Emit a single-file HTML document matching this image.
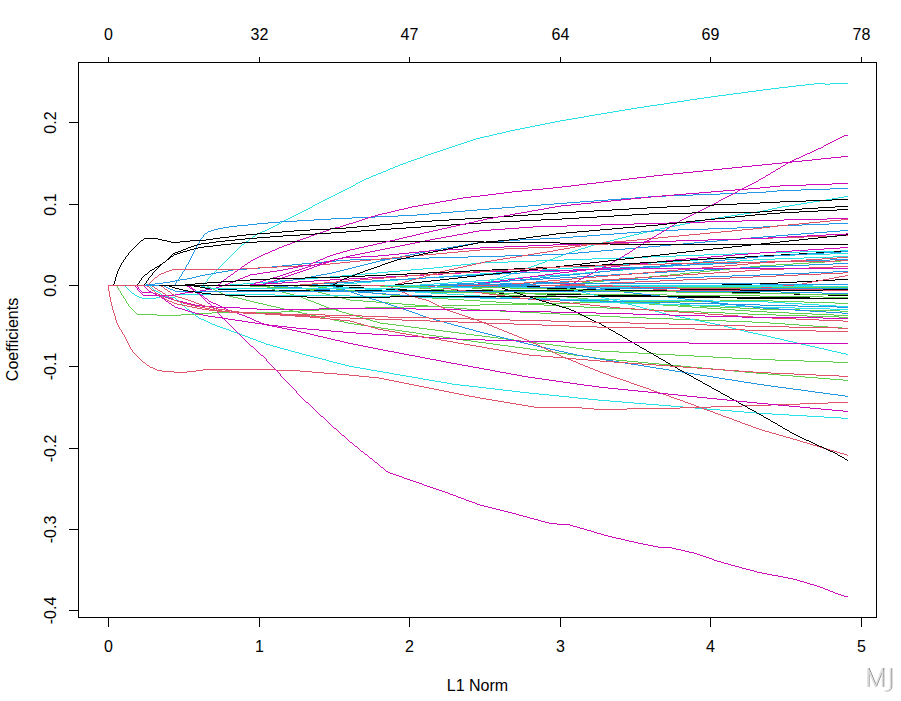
<!DOCTYPE html>
<html><head><meta charset="utf-8"><title>Coefficient paths</title>
<style>
html,body{margin:0;padding:0;background:#fff;}
body{width:901px;height:701px;overflow:hidden;position:relative;font-family:"Liberation Sans",sans-serif;}
</style></head><body>
<svg width="901" height="701" viewBox="0 0 901 701" style="position:absolute;left:0;top:0">
<rect x="0" y="0" width="901" height="701" fill="#fff"/>
<g fill="none" stroke-width="1" shape-rendering="crispEdges" stroke-linejoin="round">
<path d="M560,285.5h30M590,286.5h101M691,285.5h31M722,284.5h30M752,283.5h26M778,282.5h19M797,281.5h19M816,280.5h19M835,279.5h13" stroke="#000000"/>
<path d="M400,285.5h44M444,286.5h44M488,287.5h44M532,288.5h44M576,289.5h44M620,290.5h47M667,291.5h46M713,292.5h47M760,293.5h34M794,294.5h34M828,295.5h20" stroke="#000000"/>
<path d="M189,285.5h5M194,286.5h6M200,287.5h5M205,288.5h13M218,289.5h19M237,290.5h571M808,289.5h40" stroke="#000000"/>
<path d="M420,285.5h60M480,286.5h60M540,287.5h60M600,288.5h80M680,289.5h80M760,290.5h88" stroke="#000000"/>
<path d="M300,285.5h21M321,286.5h22M343,287.5h21M364,288.5h22M386,289.5h21M407,290.5h22M429,291.5h21M450,292.5h49M499,293.5h48M547,294.5h49M596,295.5h57M653,296.5h67M720,297.5h90M810,298.5h38" stroke="#000000"/>
<path d="M117.5,285v3M118.5,288v2M119,290.5h1M120.5,291v2M121.5,293v2M122,295.5h1M123.5,296v2M124,298.5h1M125.5,299v2M126.5,301v2M127,303.5h1M128.5,304v2M129,306.5h1M130,307.5h1M131,308.5h1M132,309.5h1M133,310.5h1M134,311.5h1M135,312.5h1M136,313.5h1M137,314.5h20M157,315.5h24M181,314.5h18M199,313.5h13M212,312.5h69M281,311.5h19M300,310.5h19M319,309.5h19M338,308.5h27M365,307.5h39M404,306.5h38M442,305.5h38M480,304.5h47M527,303.5h46M573,302.5h47M620,301.5h100M720,300.5h53M773,301.5h31M804,302.5h31M835,303.5h13" stroke="#61D04F"/>
<path d="M205,285.5h2M207,286.5h2M209,287.5h2M211,288.5h2M213,289.5h2M215,290.5h2M217,291.5h2M219,292.5h2M221,293.5h2M223,294.5h2M225,295.5h4M229,296.5h4M233,297.5h5M238,298.5h4M242,299.5h4M246,300.5h4M250,301.5h4M254,302.5h4M258,303.5h5M263,304.5h4M267,305.5h4M271,306.5h5M276,307.5h4M280,308.5h4M284,309.5h5M289,310.5h4M293,311.5h5M298,312.5h4M302,313.5h5M307,314.5h4M311,315.5h5M316,316.5h5M321,317.5h4M325,318.5h5M330,319.5h4M334,320.5h5M339,321.5h5M344,322.5h4M348,323.5h6M354,324.5h7M361,325.5h7M368,326.5h7M375,327.5h6M381,328.5h7M388,329.5h7M395,330.5h7M402,331.5h7M409,332.5h7M416,333.5h6M422,334.5h7M429,335.5h7M436,336.5h7M443,337.5h7M450,338.5h7M457,339.5h6M463,340.5h8M471,341.5h7M478,342.5h8M486,343.5h7M493,344.5h7M500,345.5h8M508,346.5h7M515,347.5h8M523,348.5h7M530,349.5h7M537,350.5h8M545,351.5h7M552,352.5h7M559,353.5h8M567,354.5h7M574,355.5h8M582,356.5h7M589,357.5h7M596,358.5h9M605,359.5h11M616,360.5h11M627,361.5h11M638,362.5h10M648,363.5h11M659,364.5h11M670,365.5h11M681,366.5h10M691,367.5h11M702,368.5h11M713,369.5h10M723,370.5h11M734,371.5h11M745,372.5h11M756,373.5h12M768,374.5h12M780,375.5h13M793,376.5h12M805,377.5h13M818,378.5h12M830,379.5h13M843,380.5h5" stroke="#61D04F"/>
<path d="M262,285.5h3M265,286.5h2M267,287.5h3M270,288.5h2M272,289.5h3M275,290.5h4M279,291.5h3M282,292.5h4M286,293.5h4M290,294.5h4M294,295.5h3M297,296.5h4M301,297.5h2M303,298.5h3M306,299.5h2M308,300.5h3M311,301.5h3M314,302.5h2M316,303.5h3M319,304.5h2M321,305.5h3M324,306.5h2M326,307.5h3M329,308.5h3M332,309.5h4M336,310.5h3M339,311.5h3M342,312.5h4M346,313.5h3M349,314.5h4M353,315.5h3M356,316.5h4M360,317.5h3M363,318.5h3M366,319.5h4M370,320.5h3M373,321.5h4M377,322.5h3M380,323.5h8M388,324.5h8M396,325.5h8M404,326.5h7M411,327.5h8M419,328.5h8M427,329.5h8M435,330.5h8M443,331.5h8M451,332.5h8M459,333.5h7M466,334.5h8M474,335.5h8M482,336.5h8M490,337.5h8M498,338.5h8M506,339.5h8M514,340.5h7M521,341.5h8M529,342.5h8M537,343.5h8M545,344.5h8M553,345.5h8M561,346.5h8M569,347.5h7M576,348.5h8M584,349.5h8M592,350.5h8M600,351.5h19M619,352.5h19M638,353.5h18M656,354.5h19M675,355.5h19M694,356.5h19M713,357.5h19M732,358.5h19M751,359.5h24M775,360.5h29M804,361.5h29M833,362.5h15" stroke="#61D04F"/>
<path d="M290,285.5h4M294,286.5h4M298,287.5h4M302,288.5h4M306,289.5h4M310,290.5h4M314,291.5h4M318,292.5h4M322,293.5h4M326,294.5h4M330,295.5h4M334,296.5h4M338,297.5h4M342,298.5h4M346,299.5h4M350,300.5h13M363,301.5h13M376,302.5h13M389,303.5h13M402,304.5h13M415,305.5h13M428,306.5h13M441,307.5h13M454,308.5h13M467,309.5h13M480,310.5h20M500,311.5h20M520,312.5h20M540,313.5h20M560,314.5h20M580,315.5h20M600,316.5h20M620,317.5h26M646,318.5h27M673,319.5h26M699,320.5h27M726,321.5h26M752,322.5h18M770,323.5h15M785,324.5h14M799,325.5h14M813,326.5h15M828,327.5h14M842,328.5h6" stroke="#61D04F"/>
<path d="M380,285.5h13M393,286.5h13M406,287.5h13M419,288.5h12M431,289.5h13M444,290.5h13M457,291.5h13M470,292.5h13M483,293.5h13M496,294.5h13M509,295.5h12M521,296.5h13M534,297.5h13M547,298.5h13M560,299.5h20M580,300.5h20M600,301.5h20M620,302.5h20M640,303.5h20M660,304.5h20M680,305.5h20M700,306.5h20M720,307.5h20M740,308.5h20M760,309.5h40M800,310.5h40M840,311.5h8" stroke="#61D04F"/>
<path d="M440,285.5h11M451,286.5h10M461,287.5h11M472,288.5h10M482,289.5h11M493,290.5h11M504,291.5h10M514,292.5h11M525,293.5h10M535,294.5h11M546,295.5h10M556,296.5h11M567,297.5h11M578,298.5h10M588,299.5h11M599,300.5h10M609,301.5h11M620,302.5h14M634,303.5h15M649,304.5h14M663,305.5h15M678,306.5h14M692,307.5h15M707,308.5h14M721,309.5h14M735,310.5h15M750,311.5h17M767,312.5h22M789,313.5h23M812,314.5h22M834,315.5h14" stroke="#61D04F"/>
<path d="M300,285.5h9M309,286.5h9M318,287.5h9M327,288.5h9M336,289.5h9M345,290.5h10M355,291.5h9M364,292.5h9M373,293.5h9M382,294.5h9M391,295.5h9M400,296.5h16M416,297.5h16M432,298.5h16M448,299.5h16M464,300.5h16M480,301.5h16M496,302.5h16M512,303.5h16M528,304.5h16M544,305.5h16M560,306.5h24M584,307.5h23M607,308.5h24M631,309.5h23M654,310.5h24M678,311.5h23M701,312.5h24M725,313.5h23M748,314.5h28M776,315.5h31M807,316.5h32M839,317.5h9" stroke="#61D04F"/>
<path d="M230,285.5h20M250,286.5h20M270,287.5h20M290,288.5h20M310,289.5h20M330,290.5h20M350,291.5h77M427,292.5h77M504,293.5h77M581,294.5h86M667,295.5h93M760,296.5h63M823,297.5h25" stroke="#61D04F"/>
<path d="M330,285.5h50M380,286.5h50M430,287.5h418" stroke="#61D04F"/>
<path d="M560.5,284v2M561,284.5h10M571,283.5h11M582,282.5h11M593,281.5h11M604,280.5h12M616,279.5h11M627,278.5h11M638,277.5h11M649,276.5h11M660,275.5h10M670,274.5h10M680,273.5h10M690,272.5h10M700,271.5h10M710,270.5h10M720,269.5h10M730,268.5h10M740,267.5h10M750,266.5h10M760,265.5h16M776,264.5h17M793,263.5h16M809,262.5h16M825,261.5h16M841,260.5h7" stroke="#61D04F"/>
<path d="M203.5,284v2M204,283.5h1M205,282.5h1M206,281.5h1M207.5,279v2M208,278.5h1M209,277.5h1M210,276.5h1M211,275.5h1M212,274.5h1M213,273.5h1M214,272.5h1M215,271.5h1M216,270.5h1M217,269.5h1M218,268.5h1M219,267.5h1M220,266.5h1M221,265.5h1M222,264.5h1M223,263.5h1M224,262.5h1M225,261.5h1M226,260.5h1M227,259.5h1M228,258.5h1M229,257.5h1M230,256.5h1M231,255.5h1M232,254.5h1M233,253.5h1M234,252.5h1M235,251.5h1M236,250.5h1M237,249.5h1M238,248.5h1M239,247.5h1M240,246.5h1M241,245.5h1M242,244.5h2M244,243.5h1M245,242.5h1M246,241.5h2M248,240.5h1M249,239.5h1M250,238.5h2M252,237.5h1M253,236.5h2M255,235.5h1M256,234.5h2M258,233.5h2M260,232.5h2M262,231.5h3M265,230.5h2M267,229.5h2M269,228.5h2M271,227.5h2M273,226.5h2M275,225.5h2M277,224.5h2M279,223.5h2M281,222.5h1M282,221.5h2M284,220.5h2M286,219.5h2M288,218.5h2M290,217.5h2M292,216.5h2M294,215.5h2M296,214.5h2M298,213.5h2M300,212.5h2M302,211.5h2M304,210.5h2M306,209.5h2M308,208.5h2M310,207.5h2M312,206.5h1M313,205.5h2M315,204.5h2M317,203.5h2M319,202.5h2M321,201.5h2M323,200.5h2M325,199.5h2M327,198.5h2M329,197.5h2M331,196.5h2M333,195.5h2M335,194.5h2M337,193.5h2M339,192.5h2M341,191.5h2M343,190.5h2M345,189.5h2M347,188.5h2M349,187.5h2M351,186.5h2M353,185.5h2M355,184.5h1M356,183.5h2M358,182.5h2M360,181.5h2M362,180.5h2M364,179.5h2M366,178.5h3M369,177.5h2M371,176.5h2M373,175.5h3M376,174.5h2M378,173.5h3M381,172.5h2M383,171.5h3M386,170.5h2M388,169.5h2M390,168.5h3M393,167.5h2M395,166.5h3M398,165.5h2M400,164.5h3M403,163.5h3M406,162.5h2M408,161.5h3M411,160.5h3M414,159.5h3M417,158.5h3M420,157.5h3M423,156.5h2M425,155.5h3M428,154.5h3M431,153.5h3M434,152.5h3M437,151.5h3M440,150.5h3M443,149.5h3M446,148.5h3M449,147.5h3M452,146.5h3M455,145.5h3M458,144.5h3M461,143.5h3M464,142.5h3M467,141.5h3M470,140.5h3M473,139.5h3M476,138.5h4M480,137.5h4M484,136.5h5M489,135.5h4M493,134.5h4M497,133.5h5M502,132.5h4M506,131.5h4M510,130.5h5M515,129.5h5M520,128.5h5M525,127.5h5M530,126.5h5M535,125.5h5M540,124.5h5M545,123.5h5M550,122.5h5M555,121.5h5M560,120.5h6M566,119.5h6M572,118.5h6M578,117.5h6M584,116.5h5M589,115.5h6M595,114.5h6M601,113.5h6M607,112.5h6M613,111.5h6M619,110.5h6M625,109.5h6M631,108.5h6M637,107.5h7M644,106.5h6M650,105.5h7M657,104.5h7M664,103.5h6M670,102.5h7M677,101.5h7M684,100.5h6M690,99.5h7M697,98.5h7M704,97.5h7M711,96.5h7M718,95.5h8M726,94.5h7M733,93.5h8M741,92.5h7M748,91.5h8M756,90.5h7M763,89.5h8M771,88.5h8M779,87.5h9M788,86.5h8M796,85.5h9M805,84.5h9M814,83.5h11M825,84.5h5M830,83.5h18" stroke="#28E2E5"/>
<path d="M483.5,284v2M484,284.5h1M485,283.5h1M486,282.5h2M488,281.5h3M491,280.5h3M494,279.5h3M497,278.5h3M500,277.5h3M503,276.5h3M506,275.5h3M509,274.5h2M511,273.5h3M514,272.5h3M517,271.5h3M520,270.5h3M523,269.5h2M525,268.5h3M528,267.5h3M531,266.5h3M534,265.5h3M537,264.5h2M539,263.5h3M542,262.5h3M545,261.5h2M547,260.5h3M550,259.5h3M553,258.5h2M555,257.5h3M558,256.5h3M561,255.5h2M563,254.5h3M566,253.5h3M569,252.5h3M572,251.5h3M575,250.5h3M578,249.5h3M581,248.5h4M585,247.5h3M588,246.5h3M591,245.5h3M594,244.5h4M598,243.5h4M602,242.5h4M606,241.5h4M610,240.5h4M614,239.5h4M618,238.5h4M622,237.5h4M626,236.5h4M630,235.5h4M634,234.5h5M639,233.5h4M643,232.5h4M647,231.5h4M651,230.5h4M655,229.5h5M660,228.5h5M665,227.5h5M670,226.5h5M675,225.5h5M680,224.5h5M685,223.5h5M690,222.5h5M695,221.5h5M700,220.5h5M705,219.5h6M711,218.5h7M718,217.5h6M724,216.5h7M731,215.5h6M737,214.5h7M744,213.5h7M751,212.5h6M757,211.5h6M763,210.5h5M768,209.5h4M772,208.5h5M777,207.5h5M782,206.5h7M789,205.5h6M795,204.5h6M801,203.5h6M807,202.5h6M813,201.5h7M820,200.5h6M826,199.5h6M832,198.5h6M838,197.5h6M844,196.5h4" stroke="#28E2E5"/>
<path d="M149,285.5h1M150,286.5h1M151,287.5h1M152,288.5h1M153,289.5h1M154,290.5h2M156,291.5h2M158,292.5h2M160,293.5h1M161,294.5h1M162,295.5h2M164,296.5h1M165,297.5h10M175,298.5h1M176,299.5h1M177,300.5h2M179,301.5h1M180,302.5h1M181,303.5h1M182,304.5h1M183,305.5h1M184,306.5h1M185,307.5h1M186,308.5h1M187,309.5h2M189,310.5h1M190,311.5h1M191,312.5h1M192,313.5h2M194,314.5h1M195,315.5h1M196,316.5h2M198,317.5h1M199,318.5h2M201,319.5h3M204,320.5h2M206,321.5h2M208,322.5h2M210,323.5h2M212,324.5h3M215,325.5h2M217,326.5h3M220,327.5h3M223,328.5h3M226,329.5h3M229,330.5h2M231,331.5h3M234,332.5h3M237,333.5h3M240,334.5h2M242,335.5h3M245,336.5h3M248,337.5h2M250,338.5h3M253,339.5h3M256,340.5h2M258,341.5h3M261,342.5h3M264,343.5h2M266,344.5h4M270,345.5h3M273,346.5h4M277,347.5h3M280,348.5h4M284,349.5h4M288,350.5h3M291,351.5h4M295,352.5h4M299,353.5h3M302,354.5h4M306,355.5h4M310,356.5h4M314,357.5h4M318,358.5h4M322,359.5h4M326,360.5h3M329,361.5h4M333,362.5h4M337,363.5h4M341,364.5h4M345,365.5h4M349,366.5h5M354,367.5h6M360,368.5h6M366,369.5h5M371,370.5h6M377,371.5h6M383,372.5h6M389,373.5h5M394,374.5h6M400,375.5h6M406,376.5h6M412,377.5h6M418,378.5h5M423,379.5h6M429,380.5h6M435,381.5h6M441,382.5h6M447,383.5h5M452,384.5h8M460,385.5h9M469,386.5h9M478,387.5h8M486,388.5h9M495,389.5h8M503,390.5h9M512,391.5h8M520,392.5h9M529,393.5h10M539,394.5h10M549,395.5h10M559,396.5h10M569,397.5h9M578,398.5h10M588,399.5h10M598,400.5h12M610,401.5h12M622,402.5h12M634,403.5h12M646,404.5h13M659,405.5h12M671,406.5h12M683,407.5h12M695,408.5h12M707,409.5h13M720,410.5h12M732,411.5h12M744,412.5h12M756,413.5h16M772,414.5h17M789,415.5h18M807,416.5h17M824,417.5h17M841,418.5h7" stroke="#28E2E5"/>
<path d="M124,285.5h1M125,286.5h1M126,287.5h1M127,288.5h1M128,289.5h1M129,290.5h1M130,291.5h1M131,292.5h1M132,293.5h2M134,294.5h1M135,295.5h2M137,296.5h2M139,297.5h3M142,298.5h14M156,297.5h4M160,296.5h8M168,295.5h8M176,294.5h99M275,295.5h75M350,296.5h65M415,297.5h65M480,298.5h70M550,299.5h70M620,300.5h93M713,301.5h55M768,302.5h17M785,303.5h17M802,304.5h17M819,305.5h17M836,306.5h12" stroke="#28E2E5"/>
<path d="M555,285.5h4M559,286.5h4M563,287.5h4M567,288.5h3M570,289.5h4M574,290.5h4M578,291.5h4M582,292.5h4M586,293.5h4M590,294.5h4M594,295.5h4M598,296.5h3M601,297.5h4M605,298.5h4M609,299.5h4M613,300.5h4M617,301.5h4M621,302.5h4M625,303.5h3M628,304.5h4M632,305.5h4M636,306.5h4M640,307.5h3M643,308.5h4M647,309.5h4M651,310.5h4M655,311.5h4M659,312.5h3M662,313.5h4M666,314.5h4M670,315.5h5M675,316.5h5M680,317.5h5M685,318.5h5M690,319.5h5M695,320.5h5M700,321.5h5M705,322.5h5M710,323.5h5M715,324.5h5M720,325.5h4M724,326.5h4M728,327.5h4M732,328.5h4M736,329.5h4M740,330.5h4M744,331.5h4M748,332.5h5M753,333.5h5M758,334.5h4M762,335.5h5M767,336.5h4M771,337.5h4M775,338.5h5M780,339.5h4M784,340.5h4M788,341.5h5M793,342.5h4M797,343.5h4M801,344.5h5M806,345.5h4M810,346.5h5M815,347.5h4M819,348.5h5M824,349.5h4M828,350.5h4M832,351.5h5M837,352.5h4M841,353.5h5M846,354.5h2" stroke="#28E2E5"/>
<path d="M230.5,284v2M231,284.5h12M243,283.5h12M255,282.5h13M268,281.5h12M280,280.5h13M293,279.5h12M305,278.5h13M318,277.5h12M330,276.5h12M342,275.5h11M353,274.5h12M365,273.5h12M377,272.5h11M388,271.5h12M400,270.5h11M411,269.5h12M423,268.5h11M434,267.5h9M443,266.5h9M452,265.5h9M461,264.5h10M471,263.5h9M480,262.5h28M508,261.5h28M536,260.5h28M564,259.5h28M592,258.5h28M620,257.5h28M648,256.5h28M676,255.5h28M704,254.5h28M732,253.5h28M760,252.5h40M800,251.5h40M840,250.5h8" stroke="#28E2E5"/>
<path d="M330.5,284v2M331,284.5h13M344,283.5h13M357,282.5h14M371,281.5h14M385,280.5h13M398,279.5h14M412,278.5h13M425,277.5h14M439,276.5h14M453,275.5h13M466,274.5h14M480,273.5h16M496,272.5h15M511,271.5h16M527,270.5h15M542,269.5h16M558,268.5h15M573,267.5h16M589,266.5h15M604,265.5h16M620,264.5h16M636,263.5h15M651,262.5h16M667,261.5h15M682,260.5h16M698,259.5h15M713,258.5h16M729,257.5h15M744,256.5h16M760,255.5h35M795,254.5h35M830,253.5h18" stroke="#28E2E5"/>
<path d="M420.5,284v2M421,284.5h13M434,283.5h14M448,282.5h14M462,281.5h14M476,280.5h14M490,279.5h14M504,278.5h14M518,277.5h14M532,276.5h14M546,275.5h14M560,274.5h13M573,273.5h12M585,272.5h13M598,271.5h12M610,270.5h13M623,269.5h12M635,268.5h13M648,267.5h12M660,266.5h13M673,265.5h14M687,264.5h13M700,263.5h13M713,262.5h14M727,261.5h13M740,260.5h13M753,259.5h22M775,258.5h29M804,257.5h29M833,256.5h15" stroke="#28E2E5"/>
<path d="M300,285.5h16M316,286.5h17M333,287.5h16M349,288.5h16M365,289.5h17M382,290.5h16M398,291.5h17M415,292.5h16M431,293.5h16M447,294.5h17M464,295.5h16M480,296.5h20M500,297.5h20M520,298.5h20M540,299.5h20M560,300.5h20M580,301.5h20M600,302.5h20M620,303.5h35M655,304.5h35M690,305.5h35M725,306.5h35M760,307.5h35M795,308.5h35M830,309.5h18" stroke="#28E2E5"/>
<path d="M400,285.5h413M813,284.5h35" stroke="#28E2E5"/>
<path d="M175.5,283v3M176.5,281v2M177,280.5h1M178,279.5h1M179.5,277v2M180,276.5h1M181.5,274v2M182.5,272v2M183,271.5h1M184.5,269v2M185.5,267v2M186.5,265v2M187,264.5h1M188.5,262v2M189.5,260v2M190.5,258v2M191.5,256v2M192.5,254v2M193.5,252v2M194.5,250v2M195.5,248v2M196.5,246v2M197,245.5h1M198.5,243v2M199.5,241v2M200.5,239v2M201,238.5h1M202,237.5h1M203.5,235v2M204,234.5h1M205,233.5h2M207,232.5h1M208,231.5h3M211,230.5h3M214,229.5h4M218,228.5h5M223,227.5h6M229,226.5h8M237,225.5h11M248,224.5h9M257,223.5h11M268,222.5h12M280,221.5h17M297,220.5h17M314,219.5h17M331,218.5h21M352,217.5h23M375,216.5h23M398,215.5h19M417,214.5h12M429,213.5h12M441,212.5h12M453,211.5h12M465,210.5h12M477,209.5h12M489,208.5h13M502,207.5h13M515,206.5h13M528,205.5h13M541,204.5h13M554,203.5h13M567,202.5h13M580,201.5h14M594,200.5h14M608,199.5h13M621,198.5h14M635,197.5h13M648,196.5h18M666,195.5h27M693,194.5h27M720,193.5h27M747,192.5h19M766,191.5h11M777,190.5h24M801,189.5h29M830,188.5h18" stroke="#2297E6"/>
<path d="M145,285.5h1M146,284.5h9M155,283.5h8M163,282.5h7M170,281.5h5M175,280.5h5M180,279.5h7M187,278.5h5M192,277.5h4M196,276.5h4M200,275.5h5M205,274.5h6M211,273.5h5M216,272.5h6M222,271.5h6M228,270.5h5M233,269.5h14M247,268.5h13M260,267.5h12M272,266.5h10M282,265.5h10M292,264.5h10M302,263.5h11M313,262.5h11M324,261.5h12M336,260.5h14M350,259.5h39M389,258.5h40M429,257.5h39M468,256.5h37M505,255.5h37M542,254.5h24M566,253.5h12M578,252.5h11M589,251.5h12M601,250.5h12M613,249.5h12M625,248.5h11M636,247.5h12M648,246.5h12M660,245.5h11M671,244.5h12M683,243.5h11M694,242.5h11M705,241.5h12M717,240.5h11M728,239.5h12M740,238.5h11M751,237.5h12M763,236.5h13M776,235.5h12M788,234.5h13M801,233.5h13M814,232.5h13M827,231.5h13M840,230.5h8" stroke="#2297E6"/>
<path d="M255.5,284v2M256,284.5h7M263,283.5h7M270,282.5h8M278,281.5h7M285,280.5h8M293,279.5h7M300,278.5h5M305,277.5h6M311,276.5h5M316,275.5h5M321,274.5h6M327,273.5h5M332,272.5h4M336,271.5h4M340,270.5h4M344,269.5h4M348,268.5h4M352,267.5h4M356,266.5h4M360,265.5h4M364,264.5h4M368,263.5h4M372,262.5h4M376,261.5h4M380,260.5h5M385,259.5h5M390,258.5h5M395,257.5h5M400,256.5h5M405,255.5h5M410,254.5h5M415,253.5h5M420,252.5h5M425,251.5h5M430,250.5h5M435,249.5h6M441,248.5h6M447,247.5h6M453,246.5h6M459,245.5h6M465,244.5h6M471,243.5h6M477,242.5h11M488,241.5h16M504,240.5h16M520,239.5h20M540,238.5h20M560,237.5h13M573,236.5h14M587,235.5h13M600,234.5h14M614,233.5h13M627,232.5h14M641,231.5h13M654,230.5h24M678,229.5h30M708,228.5h29M737,227.5h26M763,226.5h14M777,225.5h25M802,224.5h27M829,223.5h19" stroke="#2297E6"/>
<path d="M330,285.5h3M333,286.5h3M336,287.5h3M339,288.5h3M342,289.5h3M345,290.5h3M348,291.5h3M351,292.5h3M354,293.5h3M357,294.5h3M360,295.5h3M363,296.5h3M366,297.5h3M369,298.5h3M372,299.5h4M376,300.5h3M379,301.5h3M382,302.5h3M385,303.5h3M388,304.5h3M391,305.5h3M394,306.5h3M397,307.5h3M400,308.5h3M403,309.5h3M406,310.5h3M409,311.5h3M412,312.5h3M415,313.5h3M418,314.5h2M420,315.5h3M423,316.5h3M426,317.5h3M429,318.5h4M433,319.5h3M436,320.5h4M440,321.5h4M444,322.5h3M447,323.5h4M451,324.5h3M454,325.5h4M458,326.5h4M462,327.5h3M465,328.5h4M469,329.5h4M473,330.5h3M476,331.5h4M480,332.5h4M484,333.5h4M488,334.5h4M492,335.5h4M496,336.5h4M500,337.5h4M504,338.5h4M508,339.5h4M512,340.5h4M516,341.5h4M520,342.5h4M524,343.5h4M528,344.5h5M533,345.5h4M537,346.5h4M541,347.5h5M546,348.5h4M550,349.5h5M555,350.5h4M559,351.5h5M564,352.5h4M568,353.5h5M573,354.5h4M577,355.5h6M583,356.5h6M589,357.5h5M594,358.5h6M600,359.5h6M606,360.5h7M613,361.5h6M619,362.5h6M625,363.5h6M631,364.5h7M638,365.5h6M644,366.5h6M650,367.5h6M656,368.5h7M663,369.5h6M669,370.5h6M675,371.5h7M682,372.5h6M688,373.5h6M694,374.5h6M700,375.5h7M707,376.5h6M713,377.5h6M719,378.5h6M725,379.5h7M732,380.5h6M738,381.5h6M744,382.5h7M751,383.5h6M757,384.5h7M764,385.5h7M771,386.5h7M778,387.5h8M786,388.5h7M793,389.5h8M801,390.5h7M808,391.5h7M815,392.5h8M823,393.5h7M830,394.5h8M838,395.5h7M845,396.5h3" stroke="#2297E6"/>
<path d="M300.5,284v2M301,284.5h17M318,283.5h18M336,282.5h18M354,281.5h18M372,280.5h18M390,279.5h18M408,278.5h18M426,277.5h18M444,276.5h18M462,275.5h18M480,274.5h20M500,273.5h20M520,272.5h20M540,271.5h20M560,270.5h20M580,269.5h20M600,268.5h20M620,267.5h23M643,266.5h24M667,265.5h23M690,264.5h23M713,263.5h24M737,262.5h23M760,261.5h35M795,260.5h35M830,259.5h18" stroke="#2297E6"/>
<path d="M440.5,284v2M441,284.5h16M457,283.5h17M474,282.5h17M491,281.5h18M509,280.5h17M526,279.5h17M543,278.5h17M560,277.5h17M577,276.5h17M594,275.5h17M611,274.5h18M629,273.5h19M648,272.5h19M667,271.5h18M685,270.5h19M704,269.5h19M723,268.5h18M741,267.5h19M760,266.5h24M784,265.5h25M809,264.5h24M833,263.5h15" stroke="#2297E6"/>
<path d="M470.5,284v2M471,284.5h29M500,283.5h30M530,282.5h30M560,281.5h30M590,280.5h30M620,279.5h28M648,278.5h28M676,277.5h28M704,276.5h28M732,275.5h28M760,274.5h24M784,273.5h25M809,272.5h24M833,271.5h15" stroke="#2297E6"/>
<path d="M560,285.5h9M569,286.5h9M578,287.5h9M587,288.5h9M596,289.5h9M605,290.5h10M615,291.5h9M624,292.5h9M633,293.5h9M642,294.5h9M651,295.5h9M660,296.5h8M668,297.5h9M677,298.5h8M685,299.5h9M694,300.5h8M702,301.5h9M711,302.5h8M719,303.5h9M728,304.5h8M736,305.5h9M745,306.5h8M753,307.5h10M763,308.5h16M779,309.5h16M795,310.5h15M810,311.5h16M826,312.5h16M842,313.5h6" stroke="#2297E6"/>
<path d="M260,285.5h14M274,286.5h14M288,287.5h14M302,288.5h14M316,289.5h14M330,290.5h14M344,291.5h14M358,292.5h14M372,293.5h14M386,294.5h14M400,295.5h32M432,296.5h32M464,297.5h32M496,298.5h32M528,299.5h32M560,300.5h40M600,301.5h40M640,302.5h40M680,303.5h40M720,304.5h40M760,305.5h38M798,306.5h39M837,307.5h11" stroke="#2297E6"/>
<path d="M350,285.5h205M555,286.5h293" stroke="#2297E6"/>
<path d="M108.5,285v6M109.5,291v6M110.5,297v5M111.5,302v4M112.5,306v4M113.5,310v3M114.5,313v3M115.5,316v4M116.5,320v3M117.5,323v2M118.5,325v2M119.5,327v2M120,329.5h1M121.5,330v2M122.5,332v2M123,334.5h1M124.5,335v2M125.5,337v2M126.5,339v2M127.5,341v2M128.5,343v2M129.5,345v2M130.5,347v2M131,349.5h1M132.5,350v2M133,352.5h1M134,353.5h1M135,354.5h1M136,355.5h1M137,356.5h1M138,357.5h1M139,358.5h1M140,359.5h1M141,360.5h1M142,361.5h1M143,362.5h2M145,363.5h1M146,364.5h1M147,365.5h2M149,366.5h1M150,367.5h3M153,368.5h2M155,369.5h2M157,370.5h5M162,371.5h12M174,372.5h13M187,371.5h9M196,370.5h7M203,369.5h73M276,370.5h24M300,371.5h12M312,372.5h12M324,373.5h13M337,374.5h12M349,375.5h10M359,376.5h10M369,377.5h10M379,378.5h5M384,379.5h5M389,380.5h5M394,381.5h5M399,382.5h5M404,383.5h5M409,384.5h5M414,385.5h5M419,386.5h5M424,387.5h5M429,388.5h5M434,389.5h5M439,390.5h5M444,391.5h5M449,392.5h5M454,393.5h5M459,394.5h5M464,395.5h5M469,396.5h6M475,397.5h5M480,398.5h6M486,399.5h6M492,400.5h6M498,401.5h6M504,402.5h6M510,403.5h6M516,404.5h6M522,405.5h6M528,406.5h6M534,407.5h48M582,408.5h12M594,409.5h33M627,408.5h53M680,407.5h31M711,406.5h31M742,405.5h29M771,404.5h29M800,403.5h28M828,402.5h20" stroke="#DF536B"/>
<path d="M148.5,284v2M149,283.5h1M150,282.5h1M151,281.5h1M152,280.5h1M153,279.5h1M154,278.5h1M155,277.5h2M157,276.5h1M158,275.5h1M159,274.5h2M161,273.5h3M164,272.5h2M166,271.5h3M169,270.5h3M172,269.5h68M240,268.5h18M258,267.5h19M277,266.5h21M298,265.5h16M314,264.5h16M330,263.5h10M340,262.5h10M350,261.5h10M360,260.5h11M371,259.5h10M381,258.5h11M392,257.5h10M402,256.5h11M413,255.5h11M424,254.5h12M436,253.5h11M447,252.5h11M458,251.5h11M469,250.5h11M480,249.5h24M504,248.5h24M528,247.5h25M553,246.5h15M568,245.5h12M580,244.5h11M591,243.5h12M603,242.5h11M614,241.5h12M626,240.5h11M637,239.5h10M647,238.5h11M658,237.5h10M668,236.5h11M679,235.5h10M689,234.5h11M700,233.5h10M710,232.5h11M721,231.5h11M732,230.5h10M742,229.5h11M753,228.5h9M762,227.5h8M770,226.5h8M778,225.5h10M788,224.5h11M799,223.5h10M809,222.5h11M820,221.5h10M830,220.5h11M841,219.5h7" stroke="#DF536B"/>
<path d="M395.5,284v2M396,284.5h2M398,283.5h4M402,282.5h3M405,281.5h4M409,280.5h3M412,279.5h4M416,278.5h3M419,277.5h4M423,276.5h3M426,275.5h4M430,274.5h3M433,273.5h4M437,272.5h3M440,271.5h5M445,270.5h4M449,269.5h5M454,268.5h4M458,267.5h5M463,266.5h4M467,265.5h5M472,264.5h4M476,263.5h5M481,262.5h4M485,261.5h6M491,260.5h6M497,259.5h6M503,258.5h7M510,257.5h6M516,256.5h6M522,255.5h6M528,254.5h6M534,253.5h6M540,252.5h7M547,251.5h6M553,250.5h5M558,249.5h6M564,248.5h6M570,247.5h5M575,246.5h6M581,245.5h6M587,244.5h21M608,243.5h21M629,242.5h21M650,241.5h26M676,240.5h32M708,239.5h33M741,238.5h32M773,237.5h31M804,236.5h31M835,235.5h13" stroke="#DF536B"/>
<path d="M385,285.5h3M388,286.5h3M391,287.5h2M393,288.5h2M395,289.5h3M398,290.5h2M400,291.5h2M402,292.5h3M405,293.5h2M407,294.5h2M409,295.5h3M412,296.5h3M415,297.5h3M418,298.5h4M422,299.5h4M426,300.5h3M429,301.5h2M431,302.5h2M433,303.5h2M435,304.5h2M437,305.5h2M439,306.5h2M441,307.5h2M443,308.5h2M445,309.5h2M447,310.5h3M450,311.5h3M453,312.5h3M456,313.5h3M459,314.5h3M462,315.5h3M465,316.5h3M468,317.5h3M471,318.5h3M474,319.5h3M477,320.5h2M479,321.5h3M482,322.5h2M484,323.5h3M487,324.5h2M489,325.5h3M492,326.5h2M494,327.5h3M497,328.5h2M499,329.5h3M502,330.5h2M504,331.5h3M507,332.5h2M509,333.5h3M512,334.5h2M514,335.5h3M517,336.5h2M519,337.5h3M522,338.5h2M524,339.5h3M527,340.5h2M529,341.5h2M531,342.5h2M533,343.5h3M536,344.5h2M538,345.5h2M540,346.5h2M542,347.5h2M544,348.5h2M546,349.5h2M548,350.5h3M551,351.5h2M553,352.5h2M555,353.5h2M557,354.5h2M559,355.5h2M561,356.5h2M563,357.5h3M566,358.5h2M568,359.5h3M571,360.5h2M573,361.5h3M576,362.5h2M578,363.5h2M580,364.5h3M583,365.5h2M585,366.5h3M588,367.5h2M590,368.5h3M593,369.5h2M595,370.5h3M598,371.5h2M600,372.5h3M603,373.5h3M606,374.5h3M609,375.5h2M611,376.5h3M614,377.5h3M617,378.5h3M620,379.5h3M623,380.5h3M626,381.5h3M629,382.5h2M631,383.5h3M634,384.5h3M637,385.5h3M640,386.5h3M643,387.5h3M646,388.5h3M649,389.5h2M651,390.5h3M654,391.5h3M657,392.5h3M660,393.5h3M663,394.5h3M666,395.5h3M669,396.5h2M671,397.5h3M674,398.5h3M677,399.5h3M680,400.5h3M683,401.5h2M685,402.5h3M688,403.5h3M691,404.5h3M694,405.5h2M696,406.5h3M699,407.5h3M702,408.5h2M704,409.5h3M707,410.5h3M710,411.5h3M713,412.5h2M715,413.5h3M718,414.5h3M721,415.5h2M723,416.5h3M726,417.5h3M729,418.5h3M732,419.5h2M734,420.5h3M737,421.5h3M740,422.5h2M742,423.5h3M745,424.5h3M748,425.5h3M751,426.5h2M753,427.5h3M756,428.5h3M759,429.5h3M762,430.5h3M765,431.5h4M769,432.5h3M772,433.5h4M776,434.5h3M779,435.5h4M783,436.5h3M786,437.5h4M790,438.5h3M793,439.5h4M797,440.5h3M800,441.5h3M803,442.5h4M807,443.5h3M810,444.5h3M813,445.5h4M817,446.5h3M820,447.5h3M823,448.5h4M827,449.5h3M830,450.5h4M834,451.5h3M837,452.5h3M840,453.5h4M844,454.5h3M847,455.5h1" stroke="#DF536B"/>
<path d="M420,285.5h8M428,286.5h7M435,287.5h8M443,288.5h8M451,289.5h7M458,290.5h8M466,291.5h8M474,292.5h8M482,293.5h7M489,294.5h8M497,295.5h8M505,296.5h7M512,297.5h8M520,298.5h10M530,299.5h10M540,300.5h10M550,301.5h10M560,302.5h10M570,303.5h10M580,304.5h10M590,305.5h10M600,306.5h10M610,307.5h10M620,308.5h15M635,309.5h14M649,310.5h15M664,311.5h15M679,312.5h15M694,313.5h14M708,314.5h15M723,315.5h15M738,316.5h15M753,317.5h19M772,318.5h24M796,319.5h23M819,320.5h24M843,321.5h5" stroke="#DF536B"/>
<path d="M500.5,284v2M501,284.5h11M512,283.5h12M524,282.5h12M536,281.5h12M548,280.5h12M560,279.5h12M572,278.5h12M584,277.5h12M596,276.5h12M608,275.5h12M620,274.5h12M632,273.5h11M643,272.5h12M655,271.5h12M667,270.5h11M678,269.5h12M690,268.5h12M702,267.5h11M713,266.5h12M725,265.5h12M737,264.5h11M748,263.5h12M760,262.5h15M775,261.5h16M791,260.5h15M806,259.5h16M822,258.5h15M837,257.5h11" stroke="#DF536B"/>
<path d="M520.5,284v2M521,284.5h15M536,283.5h17M553,282.5h16M569,281.5h17M586,280.5h16M602,279.5h17M619,278.5h16M635,277.5h17M652,276.5h16M668,275.5h15M683,274.5h15M698,273.5h16M714,272.5h15M729,271.5h16M745,270.5h15M760,269.5h24M784,268.5h25M809,267.5h24M833,266.5h15" stroke="#DF536B"/>
<path d="M560.5,284v2M561,284.5h24M585,283.5h25M610,282.5h25M635,281.5h25M660,280.5h23M683,279.5h24M707,278.5h23M730,277.5h23M753,276.5h23M776,275.5h22M798,274.5h23M821,273.5h22M843,272.5h5" stroke="#DF536B"/>
<path d="M600,285.5h13M613,286.5h14M627,287.5h13M640,288.5h13M653,289.5h14M667,290.5h73M740,289.5h11M751,288.5h10M761,287.5h11M772,286.5h11M783,285.5h11M794,284.5h8M802,283.5h5M807,282.5h5M812,281.5h6M818,280.5h5M823,279.5h6M829,278.5h5M834,277.5h5M839,276.5h6M845,275.5h3" stroke="#DF536B"/>
<path d="M185,285.5h2M187,286.5h2M189,287.5h1M190,288.5h2M192,289.5h1M193,290.5h1M194,291.5h2M196,292.5h1M197,293.5h2M199,294.5h1M200,295.5h1M201,296.5h1M202,297.5h1M203,298.5h1M204,299.5h1M205,300.5h1M206,301.5h1M207,302.5h1M208,303.5h2M210,304.5h1M211,305.5h1M212,306.5h1M213,307.5h1M214,308.5h2M216.5,309v2M217.5,311v2M218,313.5h1M219,314.5h1M220,315.5h1M221,316.5h1M222,317.5h1M223,318.5h1M224,319.5h1M225,320.5h1M226,321.5h1M227,322.5h1M228,323.5h1M229,324.5h1M230,325.5h1M231,326.5h1M232,327.5h1M233,328.5h1M234,329.5h1M235,330.5h1M236,331.5h1M237,332.5h1M238,333.5h1M239,334.5h1M240,335.5h1M241,336.5h1M242,337.5h1M243,338.5h1M244,339.5h1M245,340.5h1M246,341.5h1M247,342.5h1M248,343.5h1M249,344.5h1M250,345.5h1M251,346.5h2M253,347.5h1M254,348.5h1M255,349.5h1M256,350.5h1M257,351.5h1M258,352.5h1M259,353.5h1M260,354.5h1M261,355.5h2M263,356.5h1M264,357.5h1M265,358.5h1M266.5,359v2M267,361.5h1M268,362.5h1M269,363.5h1M270,364.5h1M271,365.5h1M272,366.5h1M273,367.5h1M274,368.5h1M275,369.5h1M276,370.5h1M277,371.5h1M278,372.5h1M279,373.5h1M280.5,374v2M281,376.5h1M282,377.5h1M283,378.5h1M284,379.5h1M285,380.5h1M286,381.5h1M287,382.5h1M288,383.5h1M289,384.5h1M290,385.5h1M291,386.5h1M292,387.5h1M293,388.5h1M294,389.5h1M295,390.5h1M296.5,391v2M297,393.5h1M298,394.5h1M299,395.5h1M300,396.5h1M301,397.5h1M302,398.5h1M303,399.5h1M304,400.5h1M305,401.5h1M306,402.5h2M308,403.5h1M309,404.5h1M310,405.5h1M311,406.5h1M312,407.5h1M313,408.5h1M314,409.5h1M315,410.5h1M316,411.5h1M317,412.5h1M318,413.5h1M319,414.5h1M320,415.5h1M321,416.5h2M323,417.5h1M324,418.5h1M325,419.5h1M326,420.5h1M327,421.5h1M328,422.5h1M329,423.5h1M330,424.5h1M331,425.5h1M332,426.5h1M333,427.5h1M334,428.5h2M336,429.5h1M337,430.5h1M338,431.5h1M339,432.5h1M340,433.5h1M341,434.5h1M342,435.5h2M344,436.5h1M345,437.5h1M346,438.5h1M347,439.5h1M348,440.5h1M349,441.5h1M350,442.5h2M352,443.5h1M353,444.5h1M354,445.5h1M355,446.5h2M357,447.5h1M358,448.5h1M359,449.5h1M360,450.5h1M361,451.5h2M363,452.5h1M364,453.5h1M365,454.5h2M367,455.5h1M368,456.5h1M369,457.5h1M370,458.5h2M372,459.5h1M373,460.5h1M374,461.5h1M375,462.5h2M377,463.5h1M378,464.5h1M379,465.5h1M380,466.5h1M381,467.5h2M383,468.5h1M384,469.5h1M385,470.5h1M386,471.5h2M388,472.5h2M390,473.5h3M393,474.5h3M396,475.5h3M399,476.5h3M402,477.5h2M404,478.5h3M407,479.5h3M410,480.5h3M413,481.5h3M416,482.5h3M419,483.5h3M422,484.5h2M424,485.5h3M427,486.5h3M430,487.5h3M433,488.5h3M436,489.5h3M439,490.5h3M442,491.5h3M445,492.5h3M448,493.5h2M450,494.5h3M453,495.5h3M456,496.5h2M458,497.5h3M461,498.5h3M464,499.5h2M466,500.5h3M469,501.5h3M472,502.5h3M475,503.5h2M477,504.5h3M480,505.5h4M484,506.5h4M488,507.5h4M492,508.5h4M496,509.5h4M500,510.5h4M504,511.5h4M508,512.5h4M512,513.5h4M516,514.5h3M519,515.5h4M523,516.5h4M527,517.5h3M530,518.5h4M534,519.5h4M538,520.5h3M541,521.5h4M545,522.5h4M549,523.5h8M557,524.5h13M570,525.5h3M573,526.5h4M577,527.5h3M580,528.5h4M584,529.5h3M587,530.5h4M591,531.5h3M594,532.5h3M597,533.5h4M601,534.5h3M604,535.5h4M608,536.5h4M612,537.5h4M616,538.5h5M621,539.5h4M625,540.5h4M629,541.5h5M634,542.5h4M638,543.5h5M643,544.5h5M648,545.5h5M653,546.5h5M658,547.5h14M672,548.5h4M676,549.5h5M681,550.5h4M685,551.5h4M689,552.5h5M694,553.5h3M697,554.5h3M700,555.5h3M703,556.5h3M706,557.5h3M709,558.5h3M712,559.5h2M714,560.5h3M717,561.5h4M721,562.5h3M724,563.5h4M728,564.5h3M731,565.5h4M735,566.5h4M739,567.5h3M742,568.5h4M746,569.5h4M750,570.5h4M754,571.5h3M757,572.5h5M762,573.5h5M767,574.5h5M772,575.5h6M778,576.5h5M783,577.5h5M788,578.5h5M793,579.5h4M797,580.5h3M800,581.5h4M804,582.5h3M807,583.5h3M810,584.5h4M814,585.5h3M817,586.5h3M820,587.5h3M823,588.5h2M825,589.5h3M828,590.5h2M830,591.5h3M833,592.5h2M835,593.5h3M838,594.5h3M841,595.5h3M844,596.5h4" stroke="#CD0BBC"/>
<path d="M218.5,284v2M219,284.5h1M220,283.5h1M221,282.5h1M222,281.5h1M223,280.5h1M224,279.5h2M226,278.5h1M227,277.5h1M228,276.5h2M230,275.5h1M231,274.5h2M233,273.5h1M234,272.5h1M235,271.5h2M237,270.5h1M238,269.5h2M240,268.5h1M241,267.5h1M242,266.5h2M244,265.5h1M245,264.5h2M247,263.5h1M248,262.5h2M250,261.5h1M251,260.5h2M253,259.5h2M255,258.5h2M257,257.5h2M259,256.5h2M261,255.5h2M263,254.5h2M265,253.5h3M268,252.5h2M270,251.5h2M272,250.5h3M275,249.5h2M277,248.5h2M279,247.5h3M282,246.5h2M284,245.5h3M287,244.5h3M290,243.5h2M292,242.5h3M295,241.5h2M297,240.5h3M300,239.5h3M303,238.5h3M306,237.5h3M309,236.5h2M311,235.5h3M314,234.5h3M317,233.5h3M320,232.5h3M323,231.5h3M326,230.5h3M329,229.5h2M331,228.5h4M335,227.5h5M340,226.5h3M343,225.5h3M346,224.5h3M349,223.5h4M353,222.5h3M356,221.5h3M359,220.5h3M362,219.5h3M365,218.5h3M368,217.5h3M371,216.5h4M375,215.5h3M378,214.5h4M382,213.5h5M387,212.5h4M391,211.5h4M395,210.5h4M399,209.5h5M404,208.5h4M408,207.5h4M412,206.5h6M418,205.5h5M423,204.5h6M429,203.5h6M435,202.5h5M440,201.5h6M446,200.5h6M452,199.5h5M457,198.5h6M463,197.5h8M471,196.5h9M480,195.5h8M488,194.5h8M496,193.5h8M504,192.5h8M512,191.5h10M522,190.5h10M532,189.5h11M543,188.5h10M553,187.5h9M562,186.5h9M571,185.5h8M579,184.5h8M587,183.5h9M596,182.5h8M604,181.5h8M612,180.5h9M621,179.5h8M629,178.5h8M637,177.5h9M646,176.5h8M654,175.5h9M663,174.5h10M673,173.5h10M683,172.5h10M693,171.5h10M703,170.5h10M713,169.5h9M722,168.5h10M732,167.5h10M742,166.5h10M752,165.5h10M762,164.5h10M772,163.5h10M782,162.5h10M792,161.5h10M802,160.5h10M812,159.5h9M821,158.5h10M831,157.5h10M841,156.5h7" stroke="#CD0BBC"/>
<path d="M565.5,284v2M566,284.5h4M570,283.5h4M574,282.5h2M576,281.5h2M578,280.5h1M579,279.5h2M581,278.5h2M583,277.5h2M585,276.5h2M587,275.5h2M589,274.5h2M591,273.5h2M593,272.5h2M595,271.5h1M596,270.5h2M598,269.5h2M600,268.5h2M602,267.5h2M604,266.5h2M606,265.5h2M608,264.5h2M610,263.5h2M612,262.5h1M613,261.5h2M615,260.5h2M617,259.5h2M619,258.5h2M621,257.5h1M622,256.5h2M624,255.5h1M625,254.5h2M627,253.5h2M629,252.5h1M630,251.5h2M632,250.5h1M633,249.5h2M635,248.5h1M636,247.5h2M638,246.5h2M640,245.5h1M641,244.5h2M643,243.5h1M644,242.5h2M646,241.5h1M647,240.5h2M649,239.5h2M651,238.5h1M652,237.5h2M654,236.5h2M656,235.5h1M657,234.5h2M659,233.5h2M661,232.5h1M662,231.5h2M664,230.5h2M666,229.5h1M667,228.5h2M669,227.5h1M670,226.5h2M672,225.5h2M674,224.5h1M675,223.5h2M677,222.5h2M679,221.5h1M680,220.5h2M682,219.5h2M684,218.5h2M686,217.5h2M688,216.5h2M690,215.5h2M692,214.5h2M694,213.5h2M696,212.5h2M698,211.5h2M700,210.5h2M702,209.5h2M704,208.5h2M706,207.5h2M708,206.5h2M710,205.5h2M712,204.5h2M714,203.5h2M716,202.5h2M718,201.5h1M719,200.5h2M721,199.5h2M723,198.5h2M725,197.5h2M727,196.5h2M729,195.5h2M731,194.5h2M733,193.5h2M735,192.5h2M737,191.5h1M738,190.5h2M740,189.5h2M742,188.5h2M744,187.5h2M746,186.5h2M748,185.5h2M750,184.5h2M752,183.5h2M754,182.5h2M756,181.5h2M758,180.5h1M759,179.5h2M761,178.5h2M763,177.5h2M765,176.5h1M766,175.5h2M768,174.5h2M770,173.5h1M771,172.5h2M773,171.5h2M775,170.5h1M776,169.5h2M778,168.5h2M780,167.5h1M781,166.5h2M783,165.5h2M785,164.5h1M786,163.5h2M788,162.5h2M790,161.5h2M792,160.5h2M794,159.5h2M796,158.5h3M799,157.5h2M801,156.5h2M803,155.5h2M805,154.5h2M807,153.5h3M810,152.5h2M812,151.5h2M814,150.5h2M816,149.5h2M818,148.5h3M821,147.5h2M823,146.5h1M824,145.5h2M826,144.5h2M828,143.5h2M830,142.5h2M832,141.5h2M834,140.5h2M836,139.5h2M838,138.5h2M840,137.5h2M842,136.5h2M844,135.5h4" stroke="#CD0BBC"/>
<path d="M253.5,284v2M254,283.5h2M256,282.5h4M260,281.5h3M263,280.5h3M266,279.5h4M270,278.5h3M273,277.5h4M277,276.5h3M280,275.5h3M283,274.5h3M286,273.5h3M289,272.5h3M292,271.5h3M295,270.5h4M299,269.5h3M302,268.5h3M305,267.5h3M308,266.5h3M311,265.5h4M315,264.5h4M319,263.5h3M322,262.5h4M326,261.5h4M330,260.5h4M334,259.5h4M338,258.5h4M342,257.5h4M346,256.5h4M350,255.5h5M355,254.5h5M360,253.5h5M365,252.5h5M370,251.5h5M375,250.5h5M380,249.5h5M385,248.5h5M390,247.5h5M395,246.5h5M400,245.5h5M405,244.5h5M410,243.5h5M415,242.5h5M420,241.5h5M425,240.5h5M430,239.5h5M435,238.5h6M441,237.5h5M446,236.5h6M452,235.5h5M457,234.5h6M463,233.5h5M468,232.5h5M473,231.5h6M479,230.5h12M491,229.5h14M505,228.5h14M519,227.5h14M533,226.5h34M567,225.5h34M601,224.5h33M634,223.5h35M669,222.5h36M705,221.5h37M742,220.5h42M784,219.5h43M827,218.5h21" stroke="#CD0BBC"/>
<path d="M262.5,284v2M263,284.5h2M265,283.5h3M268,282.5h3M271,281.5h3M274,280.5h3M277,279.5h3M280,278.5h2M282,277.5h3M285,276.5h3M288,275.5h3M291,274.5h3M294,273.5h3M297,272.5h3M300,271.5h3M303,270.5h3M306,269.5h3M309,268.5h3M312,267.5h2M314,266.5h3M317,265.5h3M320,264.5h3M323,263.5h3M326,262.5h3M329,261.5h3M332,260.5h3M335,259.5h3M338,258.5h5M343,257.5h18M361,256.5h17M378,255.5h11M389,254.5h10M399,253.5h10M409,252.5h10M419,251.5h10M429,250.5h17M446,249.5h17M463,248.5h17M480,247.5h24M504,246.5h24M528,245.5h25M553,244.5h29M582,243.5h31M613,242.5h31M644,241.5h32M676,240.5h32M708,239.5h33M741,238.5h27M768,237.5h19M787,236.5h20M807,235.5h19M826,234.5h20M846,233.5h2" stroke="#CD0BBC"/>
<path d="M470.5,284v2M471,284.5h7M478,283.5h7M485,282.5h8M493,281.5h7M500,280.5h8M508,279.5h7M515,278.5h8M523,277.5h7M530,276.5h8M538,275.5h7M545,274.5h8M553,273.5h7M560,272.5h9M569,271.5h8M577,270.5h9M586,269.5h8M594,268.5h9M603,267.5h8M611,266.5h9M620,265.5h9M629,264.5h9M638,263.5h10M648,262.5h9M657,261.5h9M666,260.5h9M675,259.5h11M686,258.5h12M698,257.5h13M711,256.5h12M723,255.5h12M735,254.5h13M748,253.5h12M760,252.5h16M776,251.5h16M792,250.5h16M808,249.5h16M824,248.5h16M840,247.5h8" stroke="#CD0BBC"/>
<path d="M250.5,284v2M251,284.5h15M266,283.5h16M282,282.5h16M298,281.5h16M314,280.5h16M330,279.5h19M349,278.5h19M368,277.5h18M386,276.5h19M405,275.5h19M424,274.5h19M443,273.5h18M461,272.5h19M480,271.5h47M527,270.5h46M573,269.5h47M620,268.5h228" stroke="#CD0BBC"/>
<path d="M113.5,284v2M114.5,281v3M115.5,277v4M116.5,274v3M117.5,271v3M118.5,269v2M119.5,267v2M120.5,265v2M121.5,263v2M122,262.5h1M123.5,260v2M124,259.5h1M125.5,257v2M126,256.5h1M127,255.5h1M128.5,253v2M129,252.5h1M130,251.5h1M131,250.5h1M132,249.5h1M133,248.5h1M134,247.5h1M135,246.5h1M136,245.5h1M137,244.5h1M138,243.5h1M139,242.5h1M140,241.5h1M141,240.5h2M143,239.5h1M144,238.5h14M158,239.5h4M162,240.5h5M167,241.5h4M171,242.5h9M180,241.5h10M190,240.5h16M206,239.5h7M213,238.5h7M220,237.5h9M229,236.5h8M237,235.5h9M246,234.5h11M257,233.5h13M270,232.5h12M282,231.5h12M294,230.5h16M310,229.5h20M330,228.5h16M346,227.5h11M357,226.5h12M369,225.5h11M380,224.5h12M392,223.5h11M403,222.5h12M415,221.5h17M432,220.5h17M449,219.5h16M465,218.5h17M482,217.5h16M498,216.5h15M513,215.5h15M528,214.5h15M543,213.5h15M558,212.5h18M576,211.5h18M594,210.5h18M612,209.5h17M629,208.5h18M647,207.5h20M667,206.5h23M690,205.5h24M714,204.5h23M737,203.5h23M760,202.5h20M780,201.5h26M806,200.5h26M832,199.5h16" stroke="#000000"/>
<path d="M137.5,284v2M138,283.5h1M139.5,281v2M140,280.5h1M141.5,278v2M142,277.5h1M143,276.5h1M144,275.5h1M145,274.5h2M147,273.5h1M148,272.5h1M149,271.5h1M150,270.5h2M152,269.5h2M154,268.5h1M155,267.5h2M157,266.5h2M159,265.5h1M160,264.5h2M162,263.5h1M163,262.5h2M165,261.5h1M166,260.5h1M167,259.5h1M168,258.5h1M169,257.5h1M170,256.5h1M171,255.5h1M172,254.5h1M173,253.5h2M175,252.5h3M178,251.5h3M181,250.5h2M183,249.5h3M186,248.5h2M188,247.5h3M191,246.5h3M194,245.5h3M197,244.5h4M201,243.5h8M209,242.5h7M216,241.5h9M225,240.5h10M235,239.5h10M245,238.5h12M257,237.5h13M270,236.5h13M283,235.5h17M300,234.5h15M315,233.5h16M331,232.5h15M346,231.5h15M361,230.5h15M376,229.5h15M391,228.5h15M406,227.5h15M421,226.5h15M436,225.5h15M451,224.5h15M466,223.5h15M481,222.5h19M500,221.5h20M520,220.5h21M541,219.5h21M562,218.5h17M579,217.5h18M597,216.5h17M614,215.5h18M632,214.5h17M649,213.5h43M692,212.5h68M760,211.5h12M772,210.5h13M785,209.5h17M802,208.5h16M818,207.5h17M835,206.5h13" stroke="#000000"/>
<path d="M144.5,284v2M145,283.5h1M146.5,281v2M147,280.5h1M148.5,278v2M149,277.5h1M150,276.5h1M151,275.5h1M152.5,273v2M153,272.5h1M154,271.5h1M155,270.5h1M156,269.5h1M157,268.5h1M158,267.5h1M159,266.5h1M160,265.5h1M161,264.5h1M162,263.5h1M163,262.5h2M165,261.5h1M166,260.5h1M167,259.5h2M169,258.5h1M170,257.5h1M171,256.5h2M173,255.5h1M174,254.5h3M177,253.5h3M180,252.5h3M183,251.5h4M187,250.5h3M190,249.5h4M194,248.5h4M198,247.5h6M204,246.5h9M213,245.5h8M221,244.5h10M231,243.5h11M242,242.5h15M257,241.5h227M484,242.5h76M560,243.5h50M610,244.5h238" stroke="#000000"/>
<path d="M333.5,284v2M334,284.5h1M335,283.5h2M337,282.5h1M338,281.5h2M340,280.5h2M342,279.5h2M344,278.5h3M347,277.5h2M349,276.5h3M352,275.5h3M355,274.5h2M357,273.5h3M360,272.5h3M363,271.5h2M365,270.5h3M368,269.5h3M371,268.5h3M374,267.5h3M377,266.5h3M380,265.5h2M382,264.5h3M385,263.5h3M388,262.5h3M391,261.5h3M394,260.5h3M397,259.5h4M401,258.5h5M406,257.5h4M410,256.5h4M414,255.5h5M419,254.5h4M423,253.5h5M428,252.5h5M433,251.5h5M438,250.5h5M443,249.5h5M448,248.5h5M453,247.5h5M458,246.5h5M463,245.5h5M468,244.5h5M473,243.5h5M478,242.5h8M486,241.5h12M498,240.5h11M509,239.5h9M518,238.5h8M526,237.5h7M533,236.5h8M541,235.5h8M549,234.5h7M556,233.5h10M566,232.5h11M577,231.5h12M589,230.5h11M600,229.5h12M612,228.5h11M623,227.5h12M635,226.5h11M646,225.5h12M658,224.5h9M667,223.5h10M677,222.5h9M686,221.5h9M695,220.5h10M705,219.5h10M715,218.5h10M725,217.5h10M735,216.5h10M745,215.5h10M755,214.5h12M767,213.5h13M780,212.5h19M799,211.5h19M818,210.5h19M837,209.5h11" stroke="#000000"/>
<path d="M395.5,284v2M396,284.5h8M404,283.5h9M413,282.5h9M422,281.5h9M431,280.5h9M440,279.5h9M449,278.5h9M458,277.5h9M467,276.5h9M476,275.5h8M484,274.5h9M493,273.5h9M502,272.5h9M511,271.5h9M520,270.5h9M529,269.5h9M538,268.5h9M547,267.5h9M556,266.5h8M564,265.5h9M573,264.5h9M582,263.5h8M590,262.5h9M599,261.5h9M608,260.5h8M616,259.5h9M625,258.5h9M634,257.5h8M642,256.5h9M651,255.5h9M660,254.5h9M669,253.5h8M677,252.5h9M686,251.5h9M695,250.5h8M703,249.5h10M713,248.5h10M723,247.5h9M732,246.5h10M742,245.5h9M751,244.5h10M761,243.5h9M770,242.5h10M780,241.5h9M789,240.5h10M799,239.5h9M808,238.5h10M818,237.5h9M827,236.5h10M837,235.5h9M846,234.5h2" stroke="#000000"/>
<path d="M495.5,285v2M496,286.5h2M498,287.5h4M502,288.5h3M505,289.5h3M508,290.5h3M511,291.5h3M514,292.5h3M517,293.5h3M520,294.5h3M523,295.5h3M526,296.5h4M530,297.5h3M533,298.5h3M536,299.5h3M539,300.5h3M542,301.5h4M546,302.5h3M549,303.5h3M552,304.5h4M556,305.5h3M559,306.5h3M562,307.5h4M566,308.5h3M569,309.5h2M571,310.5h3M574,311.5h2M576,312.5h2M578,313.5h2M580,314.5h2M582,315.5h2M584,316.5h2M586,317.5h2M588,318.5h2M590,319.5h2M592,320.5h2M594,321.5h2M596,322.5h3M599,323.5h2M601,324.5h1M602,325.5h2M604,326.5h2M606,327.5h2M608,328.5h1M609,329.5h2M611,330.5h2M613,331.5h2M615,332.5h1M616,333.5h2M618,334.5h2M620,335.5h2M622,336.5h1M623,337.5h2M625,338.5h2M627,339.5h1M628,340.5h2M630,341.5h2M632,342.5h2M634,343.5h1M635,344.5h2M637,345.5h2M639,346.5h1M640,347.5h2M642,348.5h2M644,349.5h2M646,350.5h1M647,351.5h2M649,352.5h2M651,353.5h2M653,354.5h1M654,355.5h2M656,356.5h2M658,357.5h1M659,358.5h2M661,359.5h2M663,360.5h2M665,361.5h1M666,362.5h2M668,363.5h2M670,364.5h1M671,365.5h2M673,366.5h2M675,367.5h2M677,368.5h1M678,369.5h2M680,370.5h2M682,371.5h2M684,372.5h1M685,373.5h2M687,374.5h2M689,375.5h2M691,376.5h2M693,377.5h1M694,378.5h2M696,379.5h2M698,380.5h2M700,381.5h2M702,382.5h1M703,383.5h2M705,384.5h2M707,385.5h2M709,386.5h2M711,387.5h1M712,388.5h2M714,389.5h2M716,390.5h2M718,391.5h2M720,392.5h1M721,393.5h2M723,394.5h2M725,395.5h2M727,396.5h2M729,397.5h1M730,398.5h2M732,399.5h2M734,400.5h2M736,401.5h2M738,402.5h1M739,403.5h2M741,404.5h2M743,405.5h2M745,406.5h2M747,407.5h1M748,408.5h2M750,409.5h2M752,410.5h2M754,411.5h2M756,412.5h1M757,413.5h2M759,414.5h2M761,415.5h2M763,416.5h1M764,417.5h2M766,418.5h2M768,419.5h2M770,420.5h1M771,421.5h2M773,422.5h2M775,423.5h2M777,424.5h1M778,425.5h2M780,426.5h2M782,427.5h1M783,428.5h2M785,429.5h2M787,430.5h2M789,431.5h1M790,432.5h2M792,433.5h2M794,434.5h2M796,435.5h2M798,436.5h2M800,437.5h2M802,438.5h2M804,439.5h2M806,440.5h3M809,441.5h2M811,442.5h2M813,443.5h2M815,444.5h2M817,445.5h2M819,446.5h3M822,447.5h2M824,448.5h2M826,449.5h2M828,450.5h2M830,451.5h3M833,452.5h2M835,453.5h2M837,454.5h1M838,455.5h2M840,456.5h2M842,457.5h2M844,458.5h1M845,459.5h2M847,460.5h1" stroke="#000000"/>
<path d="M134,285.5h1M135,286.5h1M136,287.5h1M137.5,288v2M138,290.5h1M139,291.5h1M140,292.5h1M141,293.5h1M142,294.5h1M143,295.5h32M175,294.5h5M180,293.5h5M185,292.5h8M193,291.5h7M200,290.5h6M206,289.5h6M212,288.5h4M216,287.5h3M219,286.5h3M222,285.5h3M225,284.5h3M228,283.5h2M230,282.5h3M233,281.5h2M235,280.5h3M238,279.5h2M240,278.5h3M243,277.5h2M245,276.5h3M248,275.5h2M250,274.5h7M257,273.5h6M263,272.5h7M270,271.5h7M277,270.5h6M283,269.5h5M288,268.5h5M293,267.5h5M298,266.5h5M303,265.5h6M309,264.5h2M311,263.5h2M313,262.5h3M316,261.5h2M318,260.5h2M320,259.5h3M323,258.5h2M325,257.5h2M327,256.5h3M330,255.5h3M333,254.5h3M336,253.5h4M340,252.5h3M343,251.5h4M347,250.5h3M350,249.5h5M355,248.5h4M359,247.5h5M364,246.5h4M368,245.5h5M373,244.5h4M377,243.5h5M382,242.5h4M386,241.5h4M390,240.5h5M395,239.5h4M399,238.5h4M403,237.5h4M407,236.5h5M412,235.5h4M416,234.5h4M420,233.5h4M424,232.5h5M429,231.5h4M433,230.5h5M438,229.5h4M442,228.5h5M447,227.5h4M451,226.5h5M456,225.5h4M460,224.5h5M465,223.5h4M469,222.5h5M474,221.5h4M478,220.5h5M483,219.5h4M487,218.5h6M493,217.5h5M498,216.5h6M504,215.5h6M510,214.5h5M515,213.5h6M521,212.5h6M527,211.5h5M532,210.5h6M538,209.5h6M544,208.5h5M549,207.5h6M555,206.5h6M561,205.5h10M571,204.5h10M581,203.5h10M591,202.5h10M601,201.5h10M611,200.5h10M621,199.5h10M631,198.5h10M641,197.5h10M651,196.5h11M662,195.5h12M674,194.5h12M686,193.5h13M699,192.5h12M711,191.5h12M723,190.5h12M735,189.5h13M748,188.5h12M760,187.5h10M770,186.5h10M780,185.5h26M806,184.5h26M832,183.5h16" stroke="#CD0BBC"/>
<path d="M136,285.5h1M137,286.5h1M138.5,287v2M139,289.5h1M140,290.5h1M141,291.5h1M142,292.5h11M153,293.5h5M158,294.5h2M160,295.5h3M163,296.5h2M165,297.5h3M168,298.5h3M171,299.5h3M174,300.5h4M178,301.5h5M183,302.5h4M187,303.5h4M191,304.5h4M195,305.5h7M202,306.5h14M216,307.5h24M240,308.5h17M257,309.5h62M319,308.5h97M416,309.5h45M461,310.5h45M506,311.5h45M551,312.5h45M596,313.5h37M633,314.5h36M669,315.5h36M705,316.5h37M742,317.5h81M823,318.5h25" stroke="#CD0BBC"/>
<path d="M143,285.5h1M144,286.5h1M145,287.5h1M146,288.5h1M147,289.5h1M148,290.5h1M149,291.5h2M151,292.5h2M153,293.5h2M155,294.5h2M157,295.5h2M159,296.5h2M161,297.5h1M162,298.5h2M164,299.5h1M165,300.5h1M166,301.5h2M168,302.5h1M169,303.5h2M171,304.5h1M172,305.5h2M174,306.5h1M175,307.5h3M178,308.5h4M182,309.5h3M185,310.5h3M188,311.5h4M192,312.5h3M195,313.5h4M199,314.5h4M203,315.5h5M208,316.5h7M215,317.5h7M222,318.5h6M228,319.5h7M235,320.5h7M242,321.5h6M248,322.5h7M255,323.5h7M262,324.5h7M269,325.5h9M278,326.5h9M287,327.5h9M296,328.5h11M307,329.5h12M319,330.5h12M331,331.5h12M343,332.5h13M356,333.5h16M372,334.5h16M388,335.5h17M405,336.5h17M422,337.5h17M439,338.5h17M456,339.5h29M485,340.5h34M519,341.5h46M565,342.5h124M689,343.5h159" stroke="#CD0BBC"/>
<path d="M188,285.5h1M189,286.5h2M191,287.5h1M192,288.5h1M193,289.5h2M195,290.5h1M196,291.5h1M197,292.5h2M199,293.5h1M200,294.5h1M201,295.5h2M203,296.5h1M204,297.5h1M205,298.5h2M207,299.5h1M208,300.5h1M209,301.5h2M211,302.5h2M213,303.5h3M216,304.5h2M218,305.5h2M220,306.5h2M222,307.5h2M224,308.5h2M226,309.5h2M228,310.5h3M231,311.5h3M234,312.5h3M237,313.5h2M239,314.5h3M242,315.5h3M245,316.5h2M247,317.5h3M250,318.5h2M252,319.5h2M254,320.5h2M256,321.5h3M259,322.5h2M261,323.5h3M264,324.5h3M267,325.5h5M272,326.5h5M277,327.5h5M282,328.5h5M287,329.5h5M292,330.5h5M297,331.5h4M301,332.5h5M306,333.5h4M310,334.5h4M314,335.5h4M318,336.5h5M323,337.5h4M327,338.5h4M331,339.5h4M335,340.5h5M340,341.5h4M344,342.5h4M348,343.5h5M353,344.5h5M358,345.5h5M363,346.5h5M368,347.5h5M373,348.5h5M378,349.5h5M383,350.5h5M388,351.5h6M394,352.5h5M399,353.5h5M404,354.5h5M409,355.5h6M415,356.5h5M420,357.5h5M425,358.5h5M430,359.5h6M436,360.5h5M441,361.5h5M446,362.5h5M451,363.5h6M457,364.5h5M462,365.5h6M468,366.5h5M473,367.5h6M479,368.5h5M484,369.5h6M490,370.5h5M495,371.5h5M500,372.5h6M506,373.5h5M511,374.5h6M517,375.5h5M522,376.5h6M528,377.5h7M535,378.5h7M542,379.5h7M549,380.5h7M556,381.5h7M563,382.5h7M570,383.5h7M577,384.5h7M584,385.5h8M592,386.5h7M599,387.5h9M608,388.5h10M618,389.5h10M628,390.5h10M638,391.5h10M648,392.5h10M658,393.5h10M668,394.5h10M678,395.5h9M687,396.5h10M697,397.5h10M707,398.5h10M717,399.5h10M727,400.5h10M737,401.5h10M747,402.5h10M757,403.5h11M768,404.5h10M778,405.5h11M789,406.5h11M800,407.5h10M810,408.5h11M821,409.5h11M832,410.5h11M843,411.5h5" stroke="#CD0BBC"/>
<path d="M146,285.5h1M147,286.5h2M149,287.5h1M150,288.5h1M151,289.5h1M152,290.5h2M154,291.5h1M155,292.5h1M156,293.5h2M158,294.5h1M159,295.5h2M161,296.5h1M162,297.5h2M164,298.5h1M165,299.5h2M167,300.5h2M169,301.5h3M172,302.5h2M174,303.5h3M177,304.5h5M182,305.5h5M187,306.5h5M192,307.5h5M197,308.5h5M202,309.5h7M209,310.5h8M217,311.5h12M229,312.5h14M243,313.5h22M265,314.5h15M280,315.5h15M295,316.5h15M310,317.5h10M320,318.5h10M330,319.5h10M340,320.5h10M350,321.5h4M354,322.5h3M357,323.5h4M361,324.5h3M364,325.5h4M368,326.5h3M371,327.5h4M375,328.5h3M378,329.5h5M383,330.5h6M389,331.5h6M395,332.5h5M400,333.5h6M406,334.5h6M412,335.5h6M418,336.5h6M424,337.5h5M429,338.5h6M435,339.5h6M441,340.5h6M447,341.5h6M453,342.5h5M458,343.5h6M464,344.5h6M470,345.5h6M476,346.5h6M482,347.5h5M487,348.5h6M493,349.5h6M499,350.5h6M505,351.5h6M511,352.5h6M517,353.5h5M522,354.5h7M529,355.5h12M541,356.5h12M553,357.5h12M565,358.5h11M576,359.5h12M588,360.5h12M600,361.5h14M614,362.5h14M628,363.5h14M642,364.5h14M656,365.5h14M670,366.5h13M683,367.5h14M697,368.5h14M711,369.5h14M725,370.5h14M739,371.5h14M753,372.5h18M771,373.5h23M794,374.5h22M816,375.5h23M839,376.5h9" stroke="#DF536B"/>
<path d="M151,285.5h1M152,286.5h2M154,287.5h1M155,288.5h2M157,289.5h1M158,290.5h2M160,291.5h2M162,292.5h1M163,293.5h2M165,294.5h1M166,295.5h2M168,296.5h1M169,297.5h2M171,298.5h2M173,299.5h1M174,300.5h3M177,301.5h3M180,302.5h3M183,303.5h4M187,304.5h4M191,305.5h4M195,306.5h5M200,307.5h5M205,308.5h5M210,309.5h5M215,310.5h7M222,311.5h8M230,312.5h13M243,313.5h22M265,314.5h23M288,315.5h22M310,316.5h20M330,317.5h20M350,318.5h25M375,319.5h27M402,320.5h28M430,321.5h28M458,322.5h28M486,323.5h28M514,324.5h28M542,325.5h27M569,326.5h28M597,327.5h48M645,328.5h50M695,329.5h50M745,330.5h71M816,331.5h32" stroke="#DF536B"/>
<path d="M160,285.5h1M161,286.5h2M163,287.5h1M164,288.5h1M165,289.5h2M167,290.5h1M168,291.5h2M170,292.5h1M171,293.5h1M172,294.5h2M174,295.5h1M175,296.5h3M178,297.5h4M182,298.5h3M185,299.5h3M188,300.5h3M191,301.5h3M194,302.5h2M196,303.5h3M199,304.5h3M202,305.5h3M205,306.5h4M209,307.5h4M213,308.5h5M218,309.5h7M225,310.5h7M232,311.5h7M239,312.5h17M256,313.5h26M282,314.5h43M325,315.5h37M362,316.5h26M388,317.5h41M429,318.5h41M470,319.5h40M510,320.5h41M551,321.5h41M592,322.5h38M630,323.5h39M669,324.5h38M707,325.5h38M745,326.5h44M789,327.5h49M838,328.5h10" stroke="#DF536B"/>
<path d="M162,285.5h2M164,286.5h2M166,287.5h2M168,288.5h2M170,289.5h3M173,290.5h2M175,291.5h606M781,292.5h41M822,293.5h26" stroke="#2297E6"/>
<path d="M196,285.5h5M201,286.5h4M205,287.5h5M210,288.5h190M400,287.5h240M640,286.5h208" stroke="#28E2E5"/>
<path d="M166,285.5h3M169,286.5h3M172,287.5h3M175,288.5h4M179,289.5h4M183,290.5h5M188,291.5h7M195,292.5h7M202,293.5h9M211,294.5h14M225,295.5h20M245,296.5h62M307,297.5h83M390,296.5h288M678,297.5h59M737,298.5h111" stroke="#000000"/>
<path d="M185.5,284v2M186,284.5h9M195,283.5h12M207,282.5h14M221,281.5h15M236,280.5h14M250,279.5h20M270,278.5h35M305,277.5h35M340,276.5h25M365,275.5h21M386,274.5h21M407,273.5h21M428,272.5h21M449,271.5h21M470,270.5h22M492,269.5h22M514,268.5h22M536,267.5h22M558,266.5h22M580,265.5h22M602,264.5h21M623,263.5h17M640,262.5h17M657,261.5h16M673,260.5h17M690,259.5h17M707,258.5h19M726,257.5h19M745,256.5h19M764,255.5h17M781,254.5h18M799,253.5h17M816,252.5h18M834,251.5h14" stroke="#000000"/>
<path d="M400,285.5h37M437,286.5h36M473,287.5h37M510,288.5h37M547,289.5h36M583,290.5h37M620,291.5h56M676,292.5h56M732,293.5h68M800,294.5h48" stroke="#61D04F"/>
<path d="M470.5,284v2M471,284.5h9M480,283.5h10M490,282.5h10M500,281.5h10M510,280.5h10M520,279.5h10M530,278.5h10M540,277.5h10M550,276.5h10M560,275.5h10M570,274.5h10M580,273.5h10M590,272.5h10M600,271.5h10M610,270.5h10M620,269.5h10M630,268.5h10M640,267.5h10M650,266.5h10M660,265.5h11M671,264.5h11M682,263.5h11M693,262.5h10M703,261.5h11M714,260.5h11M725,259.5h11M736,258.5h11M747,257.5h11M758,256.5h16M774,255.5h16M790,254.5h17M807,253.5h17M824,252.5h17M841,251.5h7" stroke="#2297E6"/>
<path d="M450.5,284v2M451,284.5h82M533,283.5h227M760,284.5h88" stroke="#2297E6"/>
<path d="M380,285.5h73M453,286.5h74M527,287.5h73M600,288.5h248" stroke="#2297E6"/>
<path d="M300.5,284v2M301,284.5h11M312,283.5h12M324,282.5h12M336,281.5h12M348,280.5h12M360,279.5h12M372,278.5h12M384,277.5h12M396,276.5h12M408,275.5h12M420,274.5h18M438,273.5h17M455,272.5h18M473,271.5h17M490,270.5h18M508,269.5h17M525,268.5h18M543,267.5h17M560,266.5h35M595,265.5h35M630,264.5h35M665,263.5h35M700,262.5h67M767,261.5h68M835,260.5h13" stroke="#DF536B"/>
<path d="M540,285.5h46M586,286.5h45M631,287.5h46M677,288.5h64M741,289.5h82M823,290.5h25" stroke="#DF536B"/>
<path d="M108.0,285.5 L145.0,285.5" stroke="#DF536B"/>
<path d="M145.0,285.5 L159.0,285.5" stroke="#2297E6"/>
<path d="M159.0,285.5 L361.0,285.5" stroke="#000000"/>
<path d="M361.0,285.5 L385.0,285.5" stroke="#DF536B"/>
<path d="M385.0,285.5 L420.0,285.5" stroke="#28E2E5"/>
<path d="M458.0,285.5 L498.0,285.5" stroke="#DF536B"/>
</g>
<g stroke="#000" stroke-width="1" fill="none" shape-rendering="crispEdges">
<rect x="78.5" y="62.5" width="798" height="555"/>
<line x1="108.5" y1="617" x2="108.5" y2="627"/>
<line x1="108.5" y1="57" x2="108.5" y2="62"/>
<line x1="259.5" y1="617" x2="259.5" y2="627"/>
<line x1="259.5" y1="57" x2="259.5" y2="62"/>
<line x1="409.5" y1="617" x2="409.5" y2="627"/>
<line x1="409.5" y1="57" x2="409.5" y2="62"/>
<line x1="560.5" y1="617" x2="560.5" y2="627"/>
<line x1="560.5" y1="57" x2="560.5" y2="62"/>
<line x1="710.5" y1="617" x2="710.5" y2="627"/>
<line x1="710.5" y1="57" x2="710.5" y2="62"/>
<line x1="861.5" y1="617" x2="861.5" y2="627"/>
<line x1="861.5" y1="57" x2="861.5" y2="62"/>
<line x1="69" y1="122.5" x2="78" y2="122.5"/>
<line x1="69" y1="204.5" x2="78" y2="204.5"/>
<line x1="69" y1="285.5" x2="78" y2="285.5"/>
<line x1="69" y1="366.5" x2="78" y2="366.5"/>
<line x1="69" y1="448.5" x2="78" y2="448.5"/>
<line x1="69" y1="529.5" x2="78" y2="529.5"/>
<line x1="69" y1="610.5" x2="78" y2="610.5"/>
</g>
<g font-family="Liberation Sans, sans-serif" font-size="16" fill="#000" text-anchor="middle">
<text x="108.5" y="40">0</text>
<text x="108.5" y="652">0</text>
<text x="259.5" y="40">32</text>
<text x="259.5" y="652">1</text>
<text x="409.5" y="40">47</text>
<text x="409.5" y="652">2</text>
<text x="560.5" y="40">64</text>
<text x="560.5" y="652">3</text>
<text x="710.5" y="40">69</text>
<text x="710.5" y="652">4</text>
<text x="861.5" y="40">78</text>
<text x="861.5" y="652">5</text>
<text transform="translate(56,122.5) rotate(-90)">0.2</text>
<text transform="translate(56,204.5) rotate(-90)">0.1</text>
<text transform="translate(56,285.5) rotate(-90)">0.0</text>
<text transform="translate(56,366.5) rotate(-90)">-0.1</text>
<text transform="translate(56,448.5) rotate(-90)">-0.2</text>
<text transform="translate(56,529.5) rotate(-90)">-0.3</text>
<text transform="translate(56,610.5) rotate(-90)">-0.4</text>
<text x="477.5" y="691">L1 Norm</text>
<text transform="translate(18,339.5) rotate(-90)">Coefficients</text>
</g>
<g fill="none" stroke="#8a8a8a" stroke-width="1.0" stroke-linejoin="miter">
<path d="M869.1,686.9 L869.1,668.2 L876.6,686.2 L883.8,668.2 L883.8,686.9"/>
<path d="M891.8,668.2 L891.8,686.6 Q891.6,691.4 885.8,691.2"/>
</g>
<g fill="none" stroke="#dedede" stroke-width="1.3" stroke-linejoin="miter">
<path d="M867.8,686.9 L867.8,668.2 L875.3,686.2 L882.4,668.2 L882.4,686.9"/>
<path d="M890.4,668.2 L890.4,686.6 Q890.2,691.4 884.4,691.2"/>
</g>
</svg>
</body></html>
